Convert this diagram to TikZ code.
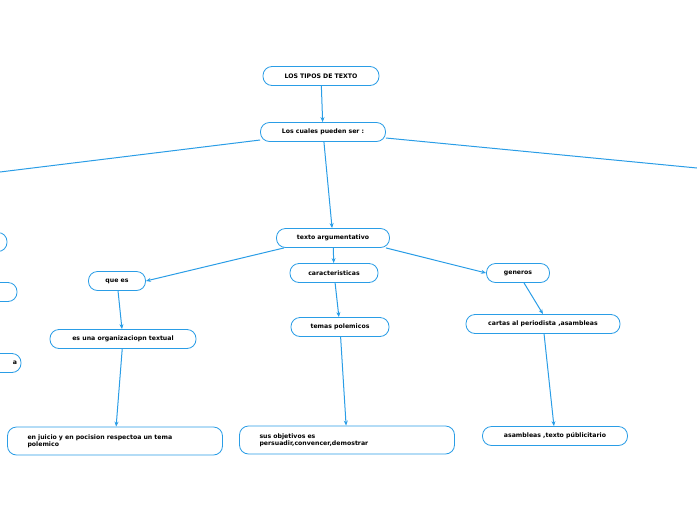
\documentclass[tikz,border=0pt]{standalone}
\usepackage{fontspec}
\setmainfont{DejaVu Sans}
\usetikzlibrary{arrows.meta}
\definecolor{lb}{HTML}{2A9DE6}
\begin{document}
\begin{tikzpicture}[x=1pt,y=-1pt,
 box/.style={draw=lb,line width=0.8pt,rounded corners=9pt,fill=white,font=\bfseries\fontsize{6.2}{7}\selectfont,inner sep=2pt,minimum height=19pt},
 wbox/.style={box,text width=#1,align=left,inner xsep=20pt,minimum height=28pt},
 ar/.style={draw=lb,line width=1pt,-{Stealth[length=5pt,width=4pt]}},
 ln/.style={draw=lb,line width=1pt}]
\useasboundingbox (0,0) rectangle (697,520);
\clip (0,0) rectangle (697,520);
\node[box,minimum width=116pt] (a) at (321,76) {LOS TIPOS DE TEXTO};
\node[box,minimum width=125pt] (b) at (323,132) {Los cuales pueden ser :};
\node[box,minimum width=113pt] (c) at (333,238) {texto argumentativo};
\node[box,minimum width=57pt] (d) at (117,281) {que es};
\node[box,minimum width=88pt] (e) at (334,273) {caracteristicas};
\node[box,minimum width=63pt] (f) at (518,273) {generos};
\node[box,minimum width=146pt] (g) at (123,339) {es una organizaciopn textual};
\node[box,minimum width=98pt] (h) at (340,327) {temas polemicos};
\node[box,minimum width=154pt] (i) at (543,324) {cartas al periodista ,asambleas};
\node[wbox=175pt] (j) at (115,441) {en juicio y en pocision respectoa un tema\\polemico};
\node[wbox=175pt] (k) at (347,440) {sus objetivos es\\persuadir,convencer,demostrar};
\node[box,minimum width=145pt] (l) at (555,436) {asambleas ,texto públicitario};
\node[box,minimum width=60pt] (p1) at (-23,242) {};
\node[box,minimum width=60pt] (p2) at (-13,292) {};
\node[box,minimum width=60pt,text width=52pt,align=right] (p3) at (-9,363) {a};
\coordinate (L) at (0,172);
\coordinate (R) at (697,168);
\draw[ar] (a) -- (b);
\draw[ar] (b) -- (c);
\draw[ln] (b.west) ++(0,8) -- (L);
\draw[ln] (b.east) ++(0,6) -- (R);
\draw[ar] (c.south west) ++(8,0) -- (d.east);
\draw[ar] (c) -- (e);
\draw[ar] (c.south east) ++(-4,0) -- (f.west);
\draw[ar] (d) -- (g);
\draw[ar] (e) -- (h);
\draw[ar] (f.south) ++(6,0) -- (i.north);
\draw[ar] (g) -- (j);
\draw[ar] (h) -- (k);
\draw[ar] (i) -- (l);
\end{tikzpicture}
\end{document}
